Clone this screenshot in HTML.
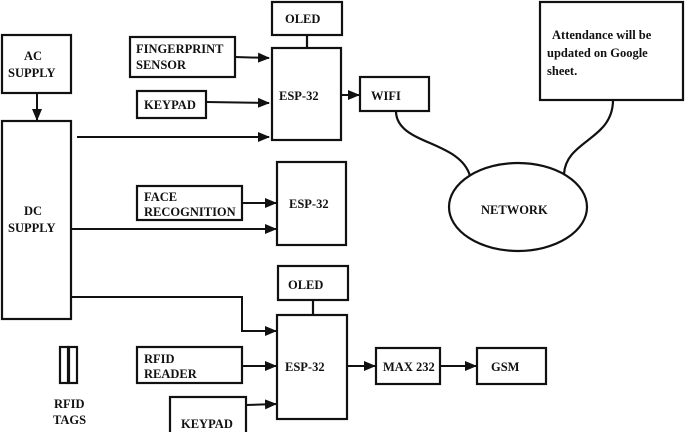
<!DOCTYPE html>
<html><head><meta charset="utf-8"><style>
html,body{margin:0;padding:0;background:#fff;}
svg{display:block;}
text{font-family:"Liberation Serif",serif;font-weight:bold;font-size:12.5px;fill:#111;}
</style></head><body>
<svg width="685" height="432" viewBox="0 0 685 432" xmlns="http://www.w3.org/2000/svg">
<defs><marker id="a" markerWidth="12" markerHeight="10" refX="11" refY="5" orient="auto" markerUnits="userSpaceOnUse"><path d="M0,0 L12,5 L0,10 z" fill="#111"/></marker></defs>
<g fill="none" stroke="#111" stroke-width="2.2">
<rect x="2" y="35" width="69" height="58"/>
<rect x="2" y="121" width="69" height="198"/>
<rect x="130" y="37" width="105" height="40"/>
<rect x="137" y="91" width="69" height="27"/>
<rect x="272" y="2" width="70" height="33"/>
<rect x="272" y="48" width="69" height="92"/>
<rect x="360" y="77" width="69" height="34"/>
<rect x="540" y="2" width="143" height="98"/>
<ellipse cx="518" cy="207" rx="69" ry="44"/>
<rect x="137" y="186" width="105" height="34"/>
<rect x="277" y="162" width="69" height="83"/>
<rect x="278" y="266" width="70" height="34"/>
<rect x="277" y="315" width="70" height="104"/>
<rect x="137" y="347" width="105" height="36"/>
<rect x="170" y="397" width="76" height="40"/>
<rect x="60" y="347" width="8" height="36"/>
<rect x="69" y="347" width="8" height="36"/>
<rect x="376" y="348" width="64" height="36"/>
<rect x="477" y="348" width="69" height="36"/>
<path d="M396,111 C396,145 460,140 470,176"/>
<path d="M613,100 C613,140 566,140 564,174"/>
<line x1="307" y1="35" x2="307" y2="48"/>
<line x1="313" y1="300" x2="313" y2="315"/>
</g>
<g fill="none" stroke="#111" stroke-width="2" marker-end="url(#a)">
<line x1="37" y1="93" x2="37" y2="120"/>
<line x1="235" y1="57" x2="269" y2="58"/>
<line x1="206" y1="102" x2="269" y2="103"/>
<line x1="77" y1="137" x2="269" y2="137"/>
<line x1="341" y1="95" x2="359" y2="95"/>
<line x1="242" y1="203" x2="276" y2="203"/>
<line x1="71" y1="229" x2="276" y2="229"/>
<path d="M71,297 H242 V331 H276"/>
<line x1="242" y1="366" x2="276" y2="366"/>
<line x1="246" y1="405" x2="276" y2="404"/>
<line x1="347" y1="366" x2="375" y2="366"/>
<line x1="440" y1="366" x2="476" y2="366"/>
</g>
<text x="24" y="60">AC</text><text x="8" y="77">SUPPLY</text>
<text x="24" y="215">DC</text><text x="8" y="232">SUPPLY</text>
<text x="136" y="53">FINGERPRINT</text><text x="136" y="69">SENSOR</text>
<text x="144" y="109">KEYPAD</text>
<text x="285" y="23">OLED</text>
<text x="279" y="100">ESP-32</text>
<text x="371" y="100">WIFI</text>
<g style="font-size:14px">
<text x="552" y="39">Attendance will be</text>
<text x="547" y="57">updated on Google</text>
<text x="547" y="75">sheet.</text>
</g>
<text x="481" y="214">NETWORK</text>
<text x="144" y="201">FACE</text><text x="144" y="216">RECOGNITION</text>
<text x="289" y="208">ESP-32</text>
<text x="288" y="289">OLED</text>
<text x="285" y="371">ESP-32</text>
<text x="144" y="363">RFID</text><text x="144" y="378">READER</text>
<text x="181" y="428">KEYPAD</text>
<text x="383" y="371">MAX 232</text>
<text x="491" y="371">GSM</text>
<text x="54" y="408">RFID</text><text x="53" y="424">TAGS</text>
</svg>
</body></html>
